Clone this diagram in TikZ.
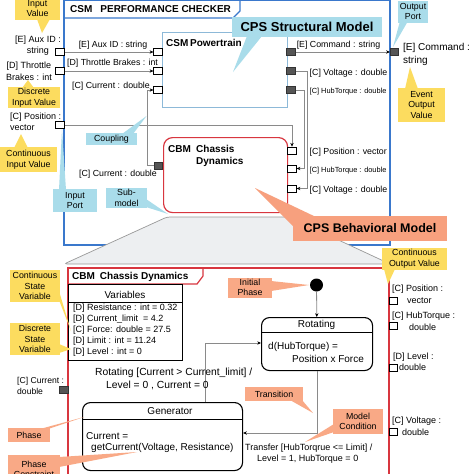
\documentclass[tikz,border=0pt]{standalone}
\usepackage{fontspec}
\setmainfont{Liberation Sans}
\usetikzlibrary{arrows.meta,calc}
\definecolor{yel}{HTML}{FCDC5F}
\definecolor{lblue}{HTML}{A9DCEA}
\definecolor{salm}{HTML}{F9A986}
\definecolor{salmd}{HTML}{F7A07E}
\definecolor{frblue}{HTML}{3A78CC}
\definecolor{ptblue}{HTML}{8DB9D8}
\definecolor{cbred}{HTML}{D8363F}
\definecolor{lgray}{HTML}{8A8A8A}
\definecolor{pdark}{HTML}{555555}
\definecolor{trap}{HTML}{EDEFF1}
\newcommand\fS{\fontsize{7.4}{9}\selectfont}
\newcommand\fB{\fontsize{8.8}{10.6}\selectfont}
\newcommand\fV{\fontsize{9}{11}\selectfont}
\newcommand\fL{\fontsize{9}{11.5}\selectfont}
\newcommand\fC{\fontsize{10}{13}\selectfont}
\newcommand\fR{\fontsize{10.3}{12}\selectfont}
\newcommand\fT{\fontsize{10}{13}\selectfont\bfseries}
\tikzset{
  txt/.style={inner sep=0pt, font=\fB, text=black},
  cnote/.style={inner sep=0pt, align=center, font=\fB, text=black},
  ycall/.style={cnote, fill=yel},
  bcall/.style={cnote, fill=lblue},
  scall/.style={cnote, fill=salm},
  inport/.style={draw=black, fill=white, line width=0.7pt, minimum width=8.5pt, minimum height=7pt, inner sep=0pt},
  outport/.style={inport, fill=pdark, draw=black!80},
  conn/.style={draw=lgray, line width=0.8pt},
  arr/.style={conn, -{Stealth[length=3.8pt,width=3.4pt,color=black]}},
  phasebox/.style={draw=black, line width=1.1pt, rounded corners=8pt, inner sep=0pt},
}
\begin{document}
\begin{tikzpicture}[x=1pt,y=-1pt]
\useasboundingbox (0,0) rectangle (474,474);
\clip (0,0) rectangle (474,474);
\fill[white] (0,0) rectangle (474,474);

% ---------- CSM frame ----------
\draw[frblue, line width=1.3pt] (64,0.6) rectangle (390,245);
\draw[frblue, line width=1.1pt] (64,18) -- (233,18) -- (240,11) -- (240,0);
\node[txt, font=\fT, anchor=west] (csmt) at (70,9.5) {CSM\hspace{8pt}PERFORMANCE CHECKER};

% Powertrain
\node[draw=ptblue, line width=1pt, minimum width=125pt, minimum height=75pt, inner sep=0pt, anchor=north west] (pt) at (162,32) {};
\node[txt, font=\fT, anchor=west] (ptt) at (166,43) {CSM\,Powertrain};
\node[inport] (pti1) at (158,52) {};
\node[inport] (pti2) at (158,71) {};
\node[inport] (pti3) at (158,90) {};
\node[outport] (pto1) at (291,52) {};
\node[outport] (pto2) at (291,71) {};
\node[outport] (pto3) at (291,90) {};

% outer ports
\node[inport] (pi1) at (60,52) {};
\node[inport] (pi2) at (60,71) {};
\node[inport] (pi3) at (60,125) {};
\node[outport] (po1) at (394.5,52) {};

% CBM box
\node[draw=cbred, fill=white, line width=1.2pt, rounded corners=9pt, minimum width=124pt, minimum height=75pt, inner sep=0pt, anchor=north west] (cbm) at (163,137) {};
\node[txt, font=\fT, anchor=west] (cbt1) at (168,149) {CBM};
\node[txt, font=\fT, anchor=west] (cbt2) at (196,149) {Chassis};
\node[txt, font=\fT, anchor=west] (cbt3) at (196,162) {Dynamics};
\node[outport] (cbmo) at (158.5,165.5) {};
\node[inport] (cbmi1) at (292,150.5) {};
\node[inport] (cbmi2) at (292,168.5) {};
\node[inport] (cbmi3) at (292,188.5) {};

% connectors
\draw[arr] (pi1) -- (pti1);
\draw[arr] (pi2) -- (pti2);
\coordinate (cv) at (147,165.5);
\draw[arr] (cbmo) -- (cv) |- (pti3);
\draw[arr] (pi3) -| (cbmi1);
\draw[arr] (pto1) -- (po1);
\coordinate (vv) at (307.5,188.5);
\coordinate (hv) at (304.5,168.5);
\draw[arr] (pto2) -| (vv) -- (cbmi3);
\draw[arr] (pto3) -| (hv) -- (cbmi2);

% labels
\node[txt] (l1) at (113,45.5) {[E] Aux ID : string};
\node[txt] (l2) at (112.5,63) {[D] Throttle Brakes : int};
\node[txt] (l3) at (111,86.5) {[C] Current : double};
\node[txt] (l4) at (118,174.5) {[C] Current : double};
\node[txt] (l5) at (338.5,45.5) {[E] Command : string};
\node[txt, anchor=west] (l6) at (309.5,73) {[C] Voltage : double};
\node[txt, font=\fS, anchor=west] (l7) at (309.5,92) {[C] HubTorque : double};
\node[txt, anchor=west] (l8) at (309.5,152.5) {[C] Position : vector};
\node[txt, font=\fS, anchor=west] (l9) at (309.5,170.5) {[C] HubTorque : double};
\node[txt, anchor=west] (l10) at (309.5,190) {[C] Voltage : double};

\node[txt, font=\fL, align=center] (la) at (38,45.5) {[E] Aux ID :\\string};
\node[txt, font=\fL, align=center] (lb) at (29,71.5) {[D] Throttle\\Brakes : int};
\node[txt, font=\fV, align=left, anchor=west] (lc) at (10,122) {[C] Position :\\vector};
\node[txt, font=\fC, align=left, anchor=west] (ld) at (403,54.5) {[E] Command :\\string};

% ---------- zoom trapezoid ----------
\path[draw=gray!80, fill=trap, line width=0.7pt, rounded corners=3pt] (64,264) -- (167,217) -- (289,217) -- (390,264) -- cycle;

% ---------- detail frame ----------
\draw[cbred, line width=1.3pt] (68,268) rectangle (389,480);
\draw[cbred, line width=1.2pt] (68,284) -- (197,284) -- (203,276) -- (203,268);
\node[txt, font=\fT, anchor=west] (dt) at (72,277) {CBM\hspace{5pt}Chassis Dynamics};

% variables
\node[draw=black, line width=1pt, minimum width=114pt, minimum height=76pt, inner sep=0pt, anchor=north west] (vars) at (68,284) {};
\draw[line width=0.9pt] (68,302) -- (182,302);
\node[txt, font=\fC] (varh) at (125,294.5) {Variables};
\node[txt, font=\fV, anchor=west] (v1) at (73,308.5) {[D] Resistance : int = 0.32};
\node[txt, font=\fV, anchor=west] (v2) at (73,319.5) {[D] Current\_limit\ \ = 4.2};
\node[txt, font=\fV, anchor=west] (v3) at (73,330) {[C] Force: double = 27.5};
\node[txt, font=\fV, anchor=west] (v4) at (73,341) {[D] Limit : int = 11.24};
\node[txt, font=\fV, anchor=west] (v5) at (73,352) {[D] Level : int = 0};

% states
\node[circle, fill=black, minimum size=13pt, inner sep=0pt] (init) at (316.5,285) {};
\node[phasebox, minimum width=111pt, minimum height=53pt, anchor=north west] (rot) at (261,317) {};
\draw[line width=1pt] (261,332) -- (372,332);
\node[txt, font=\fC] (rott) at (316.5,324.5) {Rotating};
\node[txt, font=\fC, anchor=west] (rot1) at (268,347) {d(HubTorque) =};
\node[txt, font=\fC, anchor=west] (rot2) at (292,359) {Position x Force};

\node[phasebox, minimum width=160pt, minimum height=68pt, anchor=north west] (gen) at (82,402) {};
\draw[line width=1pt] (82,419) -- (242,419);
\node[txt, font=\fC] (gent) at (170,411) {Generator};
\node[txt, font=\fC, anchor=west] (gen1) at (86,436) {Current =};
\node[txt, font=\fC, anchor=west] (gen2) at (91,448) {getCurrent(Voltage, Resistance)};

\draw[arr] (init) -- (rot);
\draw[arr] ([xshift=123pt]gen.north west) |- ([yshift=-26pt]rot.north west);
\draw[arr] (rot.south) |- ([yshift=-31pt]gen.north east);

\node[txt, font=\fR, anchor=west] (tr1) at (95,373) {Rotating [Current > Current\_limit] /};
\node[txt, font=\fR, anchor=west] (tr2) at (106,385) {Level = 0 , Current = 0};
\node[txt, font=\fV, anchor=west] (tr3) at (245,448) {Transfer [HubTorqrue <= Limit] /};
\node[txt, font=\fV, anchor=west] (tr4) at (257,459) {Level = 1, HubTorque = 0};

% detail ports
\node[outport] (dcur) at (64,389.5) {};
\node[inport] (dpos) at (393.3,301) {};
\node[inport] (dhub) at (393.3,326) {};
\node[inport] (dlev) at (393.3,367.5) {};
\node[inport] (dvol) at (393.3,431.5) {};
\node[txt, font=\fontsize{8.6}{11}\selectfont, align=left, anchor=west] (dcl) at (17,385.5) {[C] Current :\\double};
\node[txt, font=\fV, anchor=west] (dp1) at (392,289) {[C] Position :};
\node[txt, font=\fV, anchor=west] (dp2) at (407,301) {vector};
\node[txt, font=\fV, anchor=west] (dh1) at (392,316) {[C] HubTorque :};
\node[txt, font=\fV, anchor=west] (dh2) at (409,327) {double};
\node[txt, font=\fV, anchor=west] (dl1) at (393,357) {[D] Level :};
\node[txt, font=\fV, anchor=west] (dl2) at (399,367.5) {double};
\node[txt, font=\fV, anchor=west] (dv1) at (392,421) {[C] Voltage :};
\node[txt, font=\fV, anchor=west] (dv2) at (402,432) {double};

% ---------- callouts ----------
% Input Value (top left)
\coordinate (t1) at (42,33);
\fill[yel] (37,19) -- (t1) -- (50,19) -- cycle;
\node[ycall, minimum width=45pt, minimum height=23pt] (c1) at (37.5,8.5) {Input\\Value};
% Discrete Input Value
\coordinate (t2) at (28,80);
\fill[yel] (22,88) -- (t2) -- (34,88) -- cycle;
\node[ycall, minimum width=52pt, minimum height=21pt] (c2) at (34,97.5) {Discrete\\Input Value};
% Continuous Input Value
\coordinate (t3) at (21,134);
\fill[yel] (14,148) -- (t3) -- (28,148) -- cycle;
\node[ycall, minimum width=57pt, minimum height=25pt] (c3) at (28.5,159.5) {Continuous\\Input Value};
% Coupling
\coordinate (t4) at (146.5,116);
\fill[lblue] (122,134) -- (t4) -- (133,134) -- cycle;
\node[bcall, minimum width=51pt, minimum height=12pt] (c4) at (111.5,139) {Coupling};
% Input Port
\coordinate (t5) at (62,129);
\fill[lblue] (59,190) -- (t5) -- (66,190) -- cycle;
\node[bcall, minimum width=44pt, minimum height=23pt] (c5) at (75,200.5) {Input\\Port};
% Sub-model
\coordinate (t6) at (168,214);
\fill[lblue] (146,199) -- (t6) -- (146,207) -- cycle;
\node[bcall, minimum width=41pt, minimum height=20pt] (c6) at (126.5,198) {Sub-\\model};
% Output Port
\coordinate (t7) at (393,47);
\fill[lblue] (400,21) -- (t7) -- (408,21) -- cycle;
\node[bcall, minimum width=30pt, minimum height=22pt] (c7) at (413,11.5) {Output\\Port};
% Event Output Value
\coordinate (t8) at (410,67);
\fill[yel] (405,89) -- (t8) -- (418,89) -- cycle;
\node[ycall, minimum width=47pt, minimum height=34pt] (c8) at (421.5,105) {Event\\Output\\Value};
% CPS Structural Model
\coordinate (t9) at (233,72);
\fill[lblue] (247,36) -- (t9) -- (262,36) -- cycle;
\node[bcall, font=\fontsize{13}{15}\selectfont\bfseries, minimum width=150pt, minimum height=20pt] (c9) at (307,27) {CPS Structural Model};
% CPS Behavioral Model
\coordinate (t10) at (255,188);
\fill[salmd] (294,227) -- (t10) -- (316,217) -- cycle;
\node[cnote, fill=salmd, font=\fontsize{12.5}{15}\selectfont\bfseries, minimum width=154pt, minimum height=25pt] (c10) at (370,228.5) {CPS Behavioral Model};
% Continuous Output Value
\coordinate (t11) at (388,284);
\fill[yel] (384,269) -- (t11) -- (395,269) -- cycle;
\node[ycall, minimum width=65pt, minimum height=22pt] (c11) at (414.5,259) {Continuous\\Output Value};
% Continuous State Variable
\coordinate (t12) at (71,331);
\fill[yel] (59,291) -- (t12) -- (59,300) -- cycle;
\node[ycall, minimum width=50pt, minimum height=32pt] (c12) at (35,286) {Continuous\\State\\Variable};
% Discrete State Variable
\coordinate (t13) at (71,349);
\fill[yel] (59,344) -- (t13) -- (59,353) -- cycle;
\node[ycall, minimum width=50pt, minimum height=32pt] (c13) at (35,339) {Discrete\\State\\Variable};
% Phase
\coordinate (t14) at (84,417);
\fill[salm] (40,429) -- (t14) -- (48,429) -- cycle;
\node[scall, minimum width=42pt, minimum height=14pt] (c14) at (29,435) {Phase};
% Phase Constraint
\coordinate (t15) at (137,452);
\fill[salm] (59,457) -- (t15) -- (59,467) -- cycle;
\node[scall, minimum width=52pt, minimum height=29pt] (c15) at (34,469.5) {Phase\\Constraint};
% Initial Phase
\coordinate (t16) at (309,285);
\fill[salm] (271,281) -- (t16) -- (271,291) -- cycle;
\node[scall, minimum width=44pt, minimum height=20pt] (c16) at (250,287.5) {Initial\\Phase};
% Transition
\coordinate (t17) at (313,413);
\fill[salm] (290,400) -- (t17) -- (302,400) -- cycle;
\node[scall, minimum width=58pt, minimum height=14pt] (c17) at (274,394) {Transition};
% Model Condition
\coordinate (t18) at (305,442);
\fill[salm] (334,424) -- (t18) -- (334,432) -- cycle;
\node[scall, minimum width=50pt, minimum height=25pt] (c18) at (358,421.5) {Model\\Condition};
\end{tikzpicture}
\end{document}
